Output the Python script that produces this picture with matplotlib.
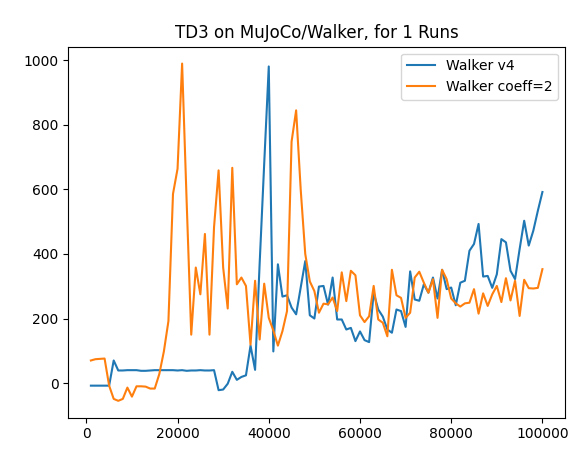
import matplotlib
matplotlib.use("Agg")
import matplotlib.pyplot as plt
import numpy as np

steps = np.arange(1, 101) * 1000

walker_v4 = [-8, -8, -8, -8, -8, 70, 39, 39, 40, 40,
             40, 38, 38, 39, 40, 40, 40, 40, 40, 39,
             40, 38, 39, 39, 40, 39, 39, 40, -22, -20,
             -2, 35, 10, 19, 24, 116, 41, 370, 680, 981,
             98, 368, 268, 272, 234, 213, 296, 378, 210, 200,
             299, 301, 243, 327, 197, 197, 166, 171, 130, 160,
             133, 127, 280, 228, 206, 166, 156, 228, 223, 174,
             346, 259, 255, 306, 280, 327, 262, 351, 291, 296,
             241, 311, 317, 410, 431, 493, 330, 332, 295, 337,
             446, 436, 348, 322, 415, 503, 426, 472, 534, 592]

walker_coeff2 = [70, 74, 75, 76, -8, -49, -55, -49, -14, -42,
                 -10, -10, -11, -17, -17, 28, 98, 192, 586, 664,
                 990, 560, 150, 358, 275, 462, 150, 483, 659, 358,
                 231, 667, 306, 327, 301, 119, 317, 135, 308, 202,
                 163, 116, 161, 223, 748, 845, 600, 400, 315, 285,
                 218, 246, 244, 265, 223, 343, 254, 348, 334, 210,
                 189, 207, 301, 197, 187, 145, 351, 272, 264, 202,
                 218, 327, 345, 311, 280, 322, 202, 351, 322, 262,
                 247, 237, 247, 249, 291, 215, 278, 239, 275, 301,
                 251, 325, 256, 317, 208, 320, 294, 293, 295, 353]

labels = ["Walker v4", "Walker coeff=2"]
title = "TD3 on MuJoCo/Walker, for 1 Runs"

fig = plt.figure(figsize=(5.77, 4.59), dpi=100)
ax = fig.add_axes([0.1184, 0.09, 0.8608, 0.8083])
ax.plot(steps, walker_v4, label=labels[0])
ax.plot(steps, walker_coeff2, label=labels[1])
ax.set_title(title)
ax.legend(loc="upper right")
fig.savefig("out.png", dpi=100)
